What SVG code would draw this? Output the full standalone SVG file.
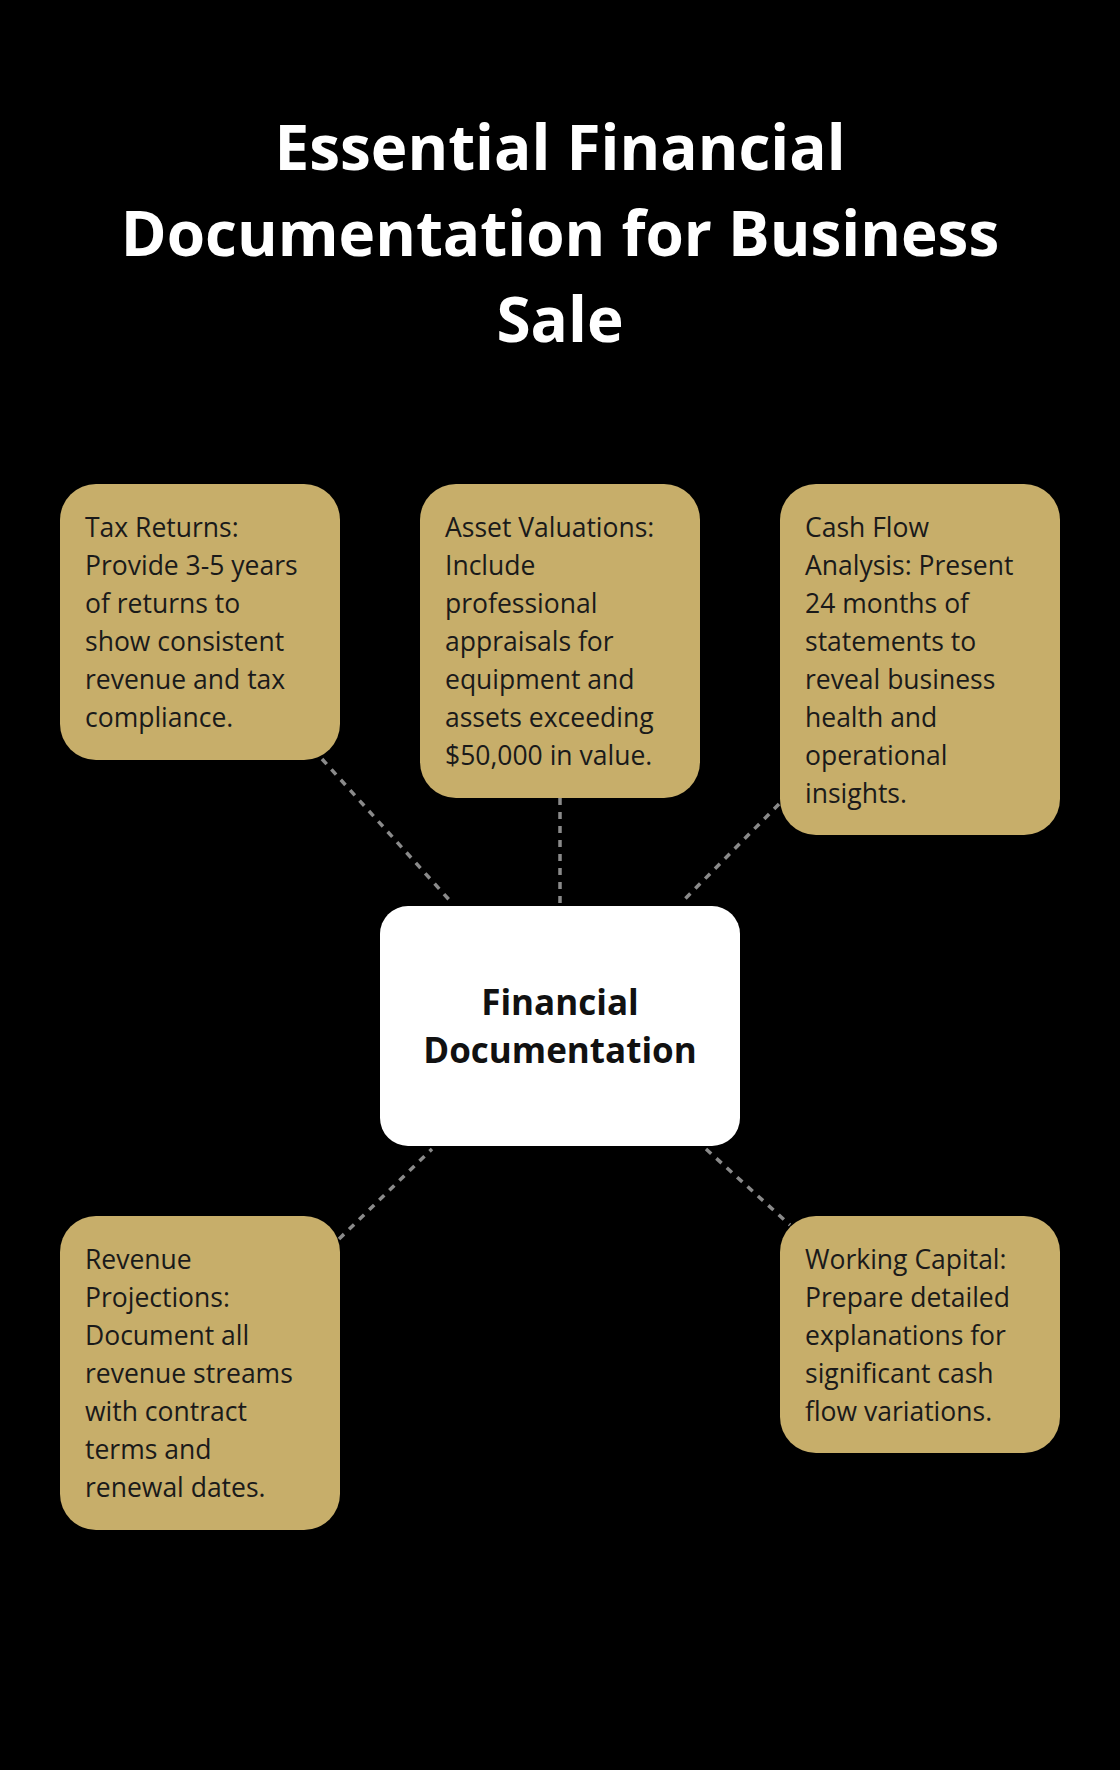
<svg xmlns="http://www.w3.org/2000/svg" width="1120" height="1770" viewBox="0 0 1120 1770">
<style>
.t{font-family:"Open Sans","Noto Sans",sans-serif;font-weight:bold;fill:#fff;font-size:62px;text-anchor:middle}
.b{fill:#c7ae6a}
.n{font-family:"Open Sans","Noto Sans",sans-serif;font-size:26.5px;fill:#1a1a1a}
.c{font-family:"Open Sans","Noto Sans",sans-serif;font-weight:bold;font-size:35px;fill:#111;text-anchor:middle}
.l{stroke:#8a8a8a;stroke-width:3.5;stroke-dasharray:7 7;fill:none}
</style>
<rect width="1120" height="1770" fill="#000"/>
<g id="title"><text class="t" x="560" y="170">Essential Financial</text><text class="t" x="560" y="256">Documentation for Business</text><text class="t" x="560" y="342">Sale</text></g>
<g id="connectors">
<line class="l" x1="322" y1="759" x2="452" y2="903"/>
<line class="l" x1="560" y1="798" x2="560" y2="903"/>
<line class="l" x1="779" y1="804" x2="681" y2="903"/>
<line class="l" x1="339" y1="1239" x2="432" y2="1149"/>
<line class="l" x1="706" y1="1149" x2="790" y2="1225"/>
</g>
<g id="center"><rect x="380" y="906" width="360" height="240" rx="28" fill="#fff"/><text class="c" x="560" y="1015">Financial</text><text class="c" x="560" y="1063">Documentation</text></g>
<g id="tax"><rect class="b" x="60" y="484" width="280" height="276" rx="36"/><text class="n" x="85"><tspan x="85" y="537">Tax Returns:</tspan><tspan x="85" dy="38">Provide 3-5 years</tspan><tspan x="85" dy="38">of returns to</tspan><tspan x="85" dy="38">show consistent</tspan><tspan x="85" dy="38">revenue and tax</tspan><tspan x="85" dy="38">compliance.</tspan></text></g>
<g id="asset"><rect class="b" x="420" y="484" width="280" height="314" rx="36"/><text class="n"><tspan x="445" y="537">Asset Valuations:</tspan><tspan x="445" dy="38">Include</tspan><tspan x="445" dy="38">professional</tspan><tspan x="445" dy="38">appraisals for</tspan><tspan x="445" dy="38">equipment and</tspan><tspan x="445" dy="38">assets exceeding</tspan><tspan x="445" dy="38">$50,000 in value.</tspan></text></g>
<g id="cash"><rect class="b" x="780" y="484" width="280" height="351" rx="36"/><text class="n"><tspan x="805" y="537">Cash Flow</tspan><tspan x="805" dy="38">Analysis: Present</tspan><tspan x="805" dy="38">24 months of</tspan><tspan x="805" dy="38">statements to</tspan><tspan x="805" dy="38">reveal business</tspan><tspan x="805" dy="38">health and</tspan><tspan x="805" dy="38">operational</tspan><tspan x="805" dy="38">insights.</tspan></text></g>
<g id="revenue"><rect class="b" x="60" y="1216" width="280" height="314" rx="36"/><text class="n"><tspan x="85" y="1269">Revenue</tspan><tspan x="85" dy="38">Projections:</tspan><tspan x="85" dy="38">Document all</tspan><tspan x="85" dy="38">revenue streams</tspan><tspan x="85" dy="38">with contract</tspan><tspan x="85" dy="38">terms and</tspan><tspan x="85" dy="38">renewal dates.</tspan></text></g>
<g id="working"><rect class="b" x="780" y="1216" width="280" height="237" rx="36"/><text class="n"><tspan x="805" y="1269">Working Capital:</tspan><tspan x="805" dy="38">Prepare detailed</tspan><tspan x="805" dy="38">explanations for</tspan><tspan x="805" dy="38">significant cash</tspan><tspan x="805" dy="38">flow variations.</tspan></text></g>
</svg>
